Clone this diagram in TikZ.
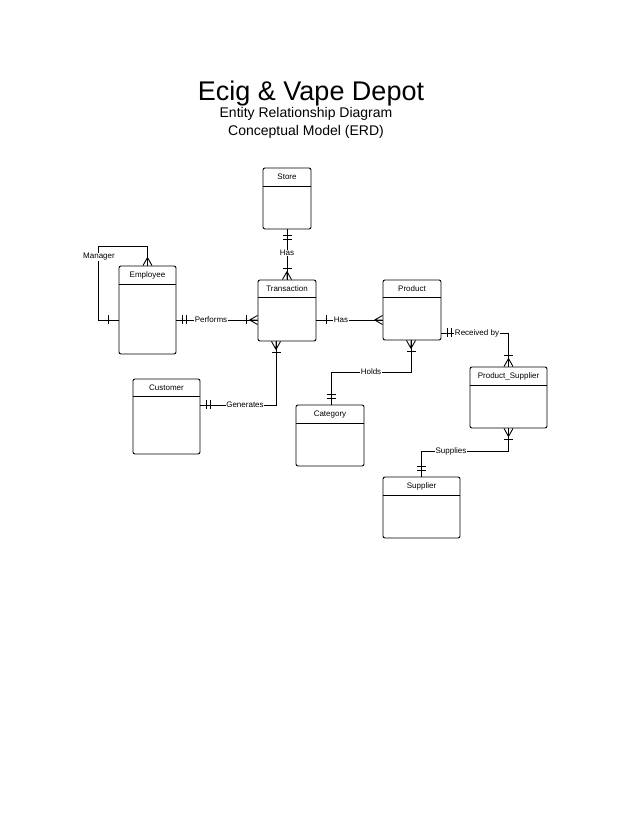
\documentclass[tikz,border=0pt]{standalone}
\usepackage{fontspec}
\setmainfont{Liberation Sans}
\begin{document}
\begin{tikzpicture}[x=1pt,y=1pt,line width=0.9pt,
  ent/.style={draw,rounded corners=2pt,inner sep=0pt},
  hd/.style={font=\fontsize{8}{9}\selectfont,inner sep=0pt},
  lbl/.style={font=\fontsize{8}{9}\selectfont,fill=white,inner sep=0.5pt},
  pics/crowbar/.style={code={\draw (-8,0)--(0,4.5) (-8,0)--(0,-4.5) (-8,0)--(0,0); \draw (-11,-4.5)--(-11,4.5);}},
  pics/crow/.style={code={\draw (-8,0)--(0,4.5) (-8,0)--(0,-4.5) (-8,0)--(0,0);}},
  pics/dbar/.style={code={\draw (-6,-4.5)--(-6,4.5) (-10,-4.5)--(-10,4.5);}},
  pics/sbar/.style={code={\draw (-10,-4.5)--(-10,4.5);}}]
\useasboundingbox (0,0) rectangle (638,826);
\node[font=\fontsize{27}{30}\selectfont] (t1) at (311,732) {Ecig \& Vape Depot};
\node[font=\fontsize{14}{16}\selectfont] (t2) at (306,712) {Entity Relationship Diagram};
\node[font=\fontsize{14}{16}\selectfont] (t3) at (306,694) {Conceptual Model (ERD)};
\newcommand{\ent}[6]{%
  \node[ent,minimum width=#3,minimum height=#4] (#1) at (#2) {};
  \node[hd] (#1h) at ([yshift=-9.5]#1.north) {#5};
  \draw ([yshift=-#6]#1.north west) -- ([yshift=-#6]#1.north east);}
\ent{store}{287,627.5}{48}{61}{Store}{19}
\ent{emp}{147.5,516}{57}{88}{Employee}{19}
\ent{trans}{287,515.5}{58}{61}{Transaction}{18}
\ent{prod}{412,516}{58}{60}{Product}{18}
\ent{cust}{166.5,409.5}{67}{75}{Customer}{18}
\ent{cat}{330,390.5}{68}{61}{Category}{19}
\ent{ps}{508.5,428.5}{77}{61}{Product\_Supplier}{19}
\ent{sup}{421.5,318.5}{77}{61}{Supplier}{19}
% Store - Transaction
\draw (store.south) -- (trans.north);
\pic[rotate=90] at (store.south) {dbar};
\pic[rotate=-90] at (trans.north) {crowbar};
\node[lbl] (l1) at (287,573) {Has};
% Manager
\coordinate (m1) at ([yshift=-10]emp.west);
\draw (m1) -- ++(-20,0) |- ([yshift=19]emp.north) -- (emp.north);
\pic at (m1) {sbar};
\pic[rotate=-90] at (emp.north) {crow};
\node[lbl] (l2) at (99,569) {Manager};
% Performs
\coordinate (p1) at ([yshift=-10]emp.east);
\coordinate (p2) at ([yshift=-9.5]trans.west);
\draw (p1) -- (p2);
\pic[rotate=180] at (p1) {dbar};
\pic at (p2) {crowbar};
\node[lbl] (l3) at (211,506) {Performs};
% Has
\coordinate (h1) at ([yshift=-9.5]trans.east);
\coordinate (h2) at ([yshift=-10]prod.west);
\draw (h1) -- (h2);
\pic[rotate=180] at (h1) {sbar};
\pic at (h2) {crow};
\node[lbl] (l4) at (341,506) {Has};
% Generates
\coordinate (g1) at ([xshift=-11]trans.south);
\coordinate (g2) at ([yshift=11.5]cust.east);
\draw (g1) |- (g2);
\pic[rotate=90] at (g1) {crowbar};
\pic[rotate=180] at (g2) {dbar};
\node[lbl] (l5) at (245,421) {Generates};
% Holds
\coordinate (o1) at ([xshift=-1]prod.south);
\coordinate (o2) at ([xshift=1]cat.north);
\draw (o1) -- ++(0,-32) -| (o2);
\pic[rotate=90] at (o1) {crowbar};
\pic[rotate=-90] at (o2) {dbar};
\node[lbl] (l6) at (371,454) {Holds};
% Received by
\coordinate (r1) at ([yshift=-23]prod.east);
\draw (r1) -| (ps.north);
\pic[rotate=180] at (r1) {dbar};
\pic[rotate=-90] at (ps.north) {crowbar};
\node[lbl] (l7) at (477,493) {Received by};
% Supplies
\draw (ps.south) -- ++(0,-23) -| (sup.north);
\pic[rotate=90] at (ps.south) {crowbar};
\pic[rotate=-90] at (sup.north) {dbar};
\node[lbl] (l8) at (451,375) {Supplies};
\end{tikzpicture}
\end{document}
